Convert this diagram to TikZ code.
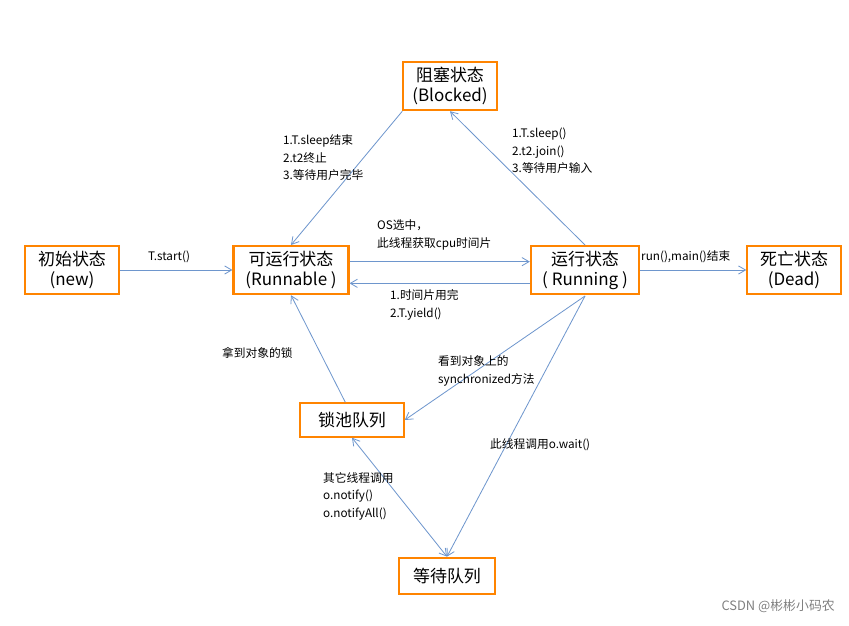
\documentclass[tikz,border=0pt]{standalone}
\usepackage{fontspec}
\setmainfont{Noto Sans CJK SC}
\usetikzlibrary{arrows.meta}
\begin{document}
\begin{tikzpicture}[x=0.03cm,y=-0.03cm,
  st/.style={draw=orange!85!yellow!90!red, line width=1.8pt, fill=white, minimum width=#1, minimum height=1.45cm, inner sep=1pt, align=center, font=\fontsize{14.5}{17}\selectfont},
  st/.default=2.8cm,
  lbl/.style={anchor=west, align=left, inner sep=0pt, font=\fontsize{10}{15}\selectfont},
  ar/.style={draw={rgb,255:red,110;green,150;blue,205}, line width=0.7pt, -{Straight Barb[length=6pt,width=7pt]}},
  dar/.style={ar, {Straight Barb[length=6pt,width=7pt]}-{Straight Barb[length=6pt,width=7pt]}}]
\useasboundingbox (0,0) rectangle (849,626);
\node[st] (blk) at (450,86) {阻塞状态\\(Blocked)};
\node[st] (new) at (72,270) {初始状态\\(new)};
\node[st=3.45cm] (rn) at (291,270) {可运行状态\\(Runnable )};
\node[st=3.25cm] (rg) at (585,270) {运行状态\\( Running )};
\node[st] (dead) at (794,270) {死亡状态\\(Dead)};
\node[st=3.1cm, minimum height=1.0cm] (lock) at (352,420) {锁池队列};
\node[st=2.9cm, minimum height=1.1cm] (wait) at (447,576) {等待队列};
\coordinate (rnT) at (291,245);
\coordinate (rgT) at (585,245);
\coordinate (rgB) at (585,296);
\draw[ar] (new.east) -- (rn.west);
\draw[ar] ([yshift=0.25cm]rn.east) -- ([yshift=0.25cm]rg.west);
\draw[ar] ([yshift=-0.4cm]rg.west) -- ([yshift=-0.4cm]rn.east);
\draw[ar] (rg.east) -- (dead.west);
\draw[ar] (blk.south west) -- (rnT);
\draw[ar] (rgT) -- (blk.south);
\draw[ar] (rgB) -- (lock.east);
\draw[ar] (rgB) -- (wait.north);
\draw[dar] (wait.north) -- (lock.south);
\draw[ar] ([xshift=-0.2cm]lock.north) -- (rn.south);
\node[lbl] (l1) at (148,257) {T.start()};
\node[lbl] (l2) at (377,235) {OS选中，\\此线程获取cpu时间片};
\node[lbl] (l3) at (390,305) {1.时间片用完\\2.T.yield()};
\node[lbl] (l4) at (641,257) {run(),main()结束};
\node[lbl] (l5) at (283,158) {1.T.sleep结束\\2.t2终止\\3.等待用户完毕};
\node[lbl] (l6) at (512,151) {1.T.sleep()\\2.t2.join()\\3.等待用户输入};
\node[lbl] (l7) at (222,353) {拿到对象的锁};
\node[lbl] (l8) at (438,371) {看到对象上的\\synchronized方法};
\node[lbl] (l9) at (490,445) {此线程调用o.wait()};
\node[lbl] (l10) at (323,496) {其它线程调用\\o.notify()\\o.notifyAll()};
\node[anchor=east, inner sep=0pt, text=gray, font=\fontsize{11}{12}\selectfont] (wm) at (835,606) {CSDN @彬彬小码农};
\end{tikzpicture}
\end{document}
